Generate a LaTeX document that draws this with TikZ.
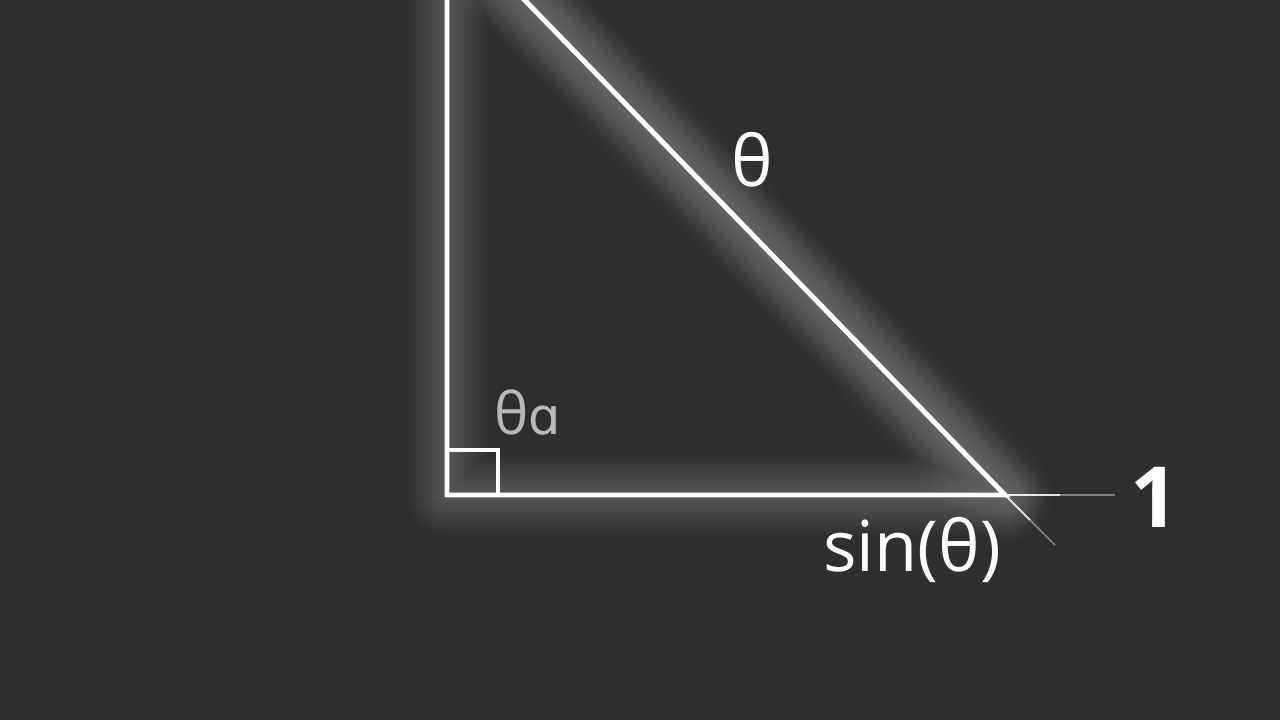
\documentclass[tikz,border=0pt]{standalone}
\usepackage{fontspec}
\setmainfont{Open Sans}
\newfontfamily\ipafont{DejaVu Sans}
\usetikzlibrary{calc, positioning}
\definecolor{board}{HTML}{2F2F2F}
\definecolor{dimtext}{HTML}{B9B9B9}

\begin{document}
\begin{tikzpicture}
			[x=0.02cm, y=-0.02cm,
			glow/.style={white, line cap=round, line join=round},
			side/.style={white, line width=2.8pt, line join=miter},
			tail/.style={white, line width=1.1pt},
			lbl/.style={inner sep=0pt, text=white, font=\fontsize{40}{40}\selectfont}]
			\useasboundingbox[fill=board] (0,0) rectangle (1280,720);
			\clip (0,0) rectangle (1280,720);
			% corners %
			\coordinate (a) at (447,-80);
			\coordinate (c) at (447,495);
			\coordinate (b) at (1005,495);
			\coordinate (bx) at (1115,495);
			\coordinate (by) at (1055,545);

			% glow %
			\foreach \w in {4,8,...,80}
				\draw[glow, line width=\w*0.57pt, opacity=0.013] (a) -- (c) -- (b) -- cycle;
			\foreach \w in {8,16,...,96}
				\draw[glow, line width=\w*0.57pt, opacity=0.010] (a) -- (b);

			% edges %
			\draw[side] (a) -- (c) -- (b) -- cycle;
			\draw[white, line width=2pt] (447,450) -| (498,495);
			\draw[tail, opacity=0.8] (b) -- ($(b)!0.5!(bx)$);
			\draw[tail, opacity=0.4] (b) -- (bx);
			\draw[tail, opacity=0.7] (b) -- ($(b)!0.5!(by)$);
			\draw[tail, opacity=0.35] (b) -- (by);

			% labels %
			\node[lbl] (theta) at (752,160) {θ};
			\node[lbl, text=dimtext, font=\fontsize{33}{33}\selectfont] (thetaa) at (528,413) {θ{\ipafont\fontsize{29}{29}\selectfont ɑ}};
			\node[lbl] (sine) at (912,550) {sin(θ)};
			\node[lbl, font=\bfseries\fontsize{48}{48}\selectfont] (one) at (1155,497) {1};
			\end{tikzpicture}
\end{document}
